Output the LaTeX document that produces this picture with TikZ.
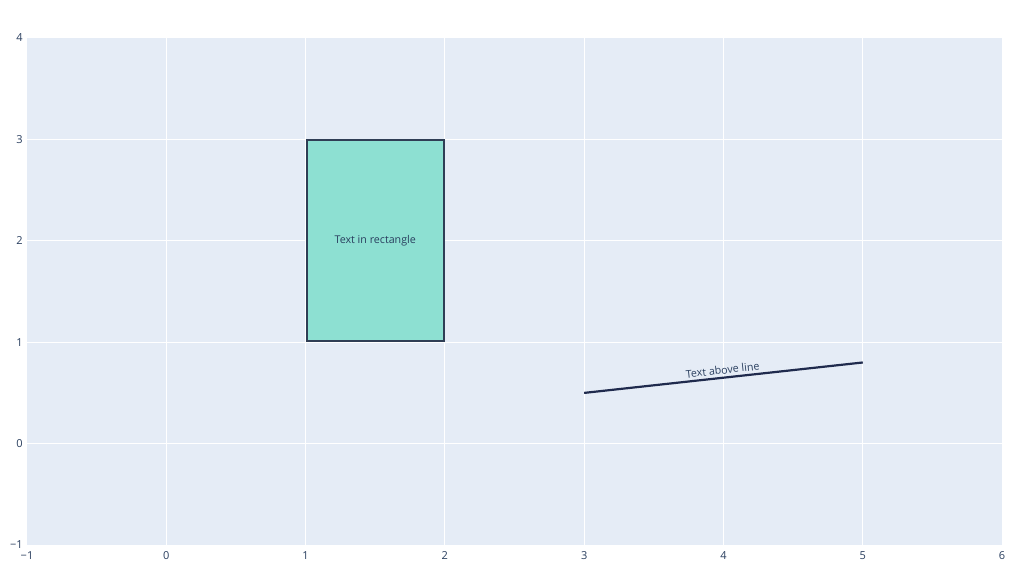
\documentclass[tikz,border=0pt]{standalone}
\usepackage{fontspec}
\setmainfont{Open Sans}
\definecolor{plotbg}{HTML}{E5ECF6}
\definecolor{txt}{HTML}{2A3F5F}
\definecolor{rectfill}{HTML}{8DE0D2}
\definecolor{rectline}{HTML}{2F3E55}
\definecolor{linecol}{HTML}{1F2A4D}
\tikzset{
  gridline/.style={draw=white, line width=1pt},
  ticklab/.style={text=txt, font=\fontsize{11}{13}\selectfont, inner sep=0pt},
  shapebox/.style={draw=rectline, fill=rectfill, line width=2pt, text=txt, font=\fontsize{10.7}{12}\selectfont},
  shapeline/.style={draw=linecol, line width=2.2pt},
  annot/.style={text=txt, font=\fontsize{10.7}{12}\selectfont, inner sep=1pt}
}
\begin{document}
\begin{tikzpicture}[x=1pt,y=1pt]
\useasboundingbox (0,0) rectangle (1035,582);
\fill[white] (0,0) rectangle (1035,582);
\begin{scope}[shift={(166.3,138.4)}, x=139.29pt, y=101.4pt]
  \fill[plotbg] (-1,-1) rectangle (6,4);
  \foreach \i in {0,...,5} \draw[gridline] (\i,-1) -- (\i,4);
  \foreach \j in {0,...,3} \draw[gridline] (-1,\j) -- (6,\j);
  % y tick labels
  \foreach \j in {0,...,4} \node[ticklab, anchor=east] (yl\j) at (-1.03,\j) {\j};
  \node[ticklab, anchor=east] (ylm) at (-1.03,-1) {−1};
  % x tick labels
  \foreach \i in {0,...,6} \node[ticklab, anchor=north] (xl\i) at (\i,-1.06) {\i};
  \node[ticklab, anchor=north] (xlm) at (-1,-1.06) {−1};
  % rectangle
  \node[shapebox, minimum width=139.29pt-2pt, minimum height=202.8pt-2pt, inner sep=0pt] (box) at (1.5,2) {\raisebox{-1pt}{Text in rectangle}};
  % line
  \coordinate (la) at (3,0.5);
  \coordinate (lb) at (5,0.8);
  \draw[shapeline] (la) -- (lb) node[annot, midway, sloped, above=1.5pt] (ltxt) {Text above line};
\end{scope}
\end{tikzpicture}
\end{document}
